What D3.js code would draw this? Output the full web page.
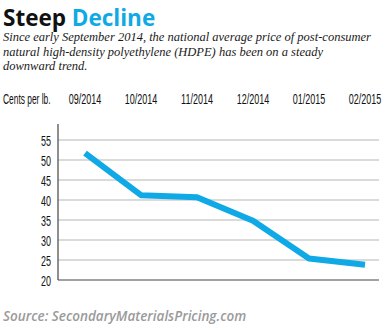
<!DOCTYPE html>
<html>
<head>
<meta charset="utf-8">
<script src="https://cdn.jsdelivr.net/npm/d3@7"></script>
<style>
  html, body { margin: 0; padding: 0; background: #fff; }
  svg { display: block; }
</style>
</head>
<body>
<div id="chart"></div>
<script>
// Monthly HDPE prices, cents per lb.
const months = ['09/2014', '10/2014', '11/2014', '12/2014', '01/2015', '02/2015'];
const prices = [51.7, 41.2, 40.7, 34.8, 25.4, 23.8];
const yTicks = [20, 25, 30, 35, 40, 45, 50, 55];
const subtitleLines = [
  'Since early September 2014, the national average price of post-consumer',
  'natural high-density polyethylene (HDPE) has been on a steady',
  'downward trend.'
];

const width = 387, height = 334;
const margin = { left: 58, right: 8, top: 140, bottom: 54 };
const blue = '#0fa9e6';

const svg = d3.select('#chart').append('svg')
  .attr('width', width)
  .attr('height', height);

// title
const title = svg.append('text')
  .attr('x', 3).attr('y', 26)
  .style('font-family', "'Open Sans', sans-serif")
  .style('font-weight', 700)
  .style('font-size', '22.5px');
title.append('tspan').attr('fill', '#111').text('Steep ');
title.append('tspan').attr('fill', blue).text('Decline');

svg.append('g').selectAll('text')
  .data(subtitleLines)
  .join('text')
  .attr('x', 3)
  .attr('y', (d, i) => 41 + i * 14.5)
  .style('font-family', "'Liberation Serif', serif")
  .style('font-style', 'italic')
  .style('font-size', '12.5px')
  .attr('fill', '#1a1a1a')
  .text(d => d);

const x = d3.scalePoint()
  .domain(months)
  .range([85, 365]);

const y = d3.scaleLinear()
  .domain([20, 55])
  .range([280, 140]);

// squeezed sans text for header and tick labels
function narrowText(g, tx, ty, str, anchor, sx) {
  g.append('text')
    .attr('transform', `translate(${tx},${ty}) scale(${sx},1)`)
    .attr('text-anchor', anchor)
    .style('font-family', "'Liberation Sans', sans-serif")
    .style('font-size', '15px')
    .attr('fill', '#111')
    .text(str);
}

const header = svg.append('g');
narrowText(header, 3, 104, 'Cents per lb.', 'start', 0.56);
months.forEach(m => narrowText(header, x(m), 104, m, 'middle', 0.6));

// gridlines
svg.append('g')
  .selectAll('line')
  .data(yTicks.filter(t => t > 20))
  .join('line')
  .attr('x1', margin.left).attr('x2', 379)
  .attr('y1', d => y(d)).attr('y2', d => y(d))
  .attr('stroke', '#b5b5b5')
  .attr('stroke-width', 1);

// y tick labels
const yLab = svg.append('g');
yTicks.forEach(t => narrowText(yLab, 51, y(t) + 5.5, String(t), 'end', 0.6));

// axes
svg.append('line')
  .attr('x1', margin.left).attr('x2', margin.left)
  .attr('y1', 124).attr('y2', y(20))
  .attr('stroke', '#444').attr('stroke-width', 1.2);
svg.append('line')
  .attr('x1', margin.left).attr('x2', 379)
  .attr('y1', y(20)).attr('y2', y(20))
  .attr('stroke', '#444').attr('stroke-width', 1.2);

// price line
const line = d3.line()
  .x((d, i) => x(months[i]))
  .y(d => y(d));

svg.append('path')
  .datum(prices)
  .attr('d', line)
  .attr('fill', 'none')
  .attr('stroke', blue)
  .attr('stroke-width', 6)
  .attr('stroke-linejoin', 'round');

// source
svg.append('text')
  .attr('x', 3).attr('y', 321)
  .style('font-family', "'Open Sans', sans-serif")
  .style('font-style', 'italic')
  .style('font-weight', 600)
  .style('font-size', '13.5px')
  .attr('fill', '#9a9a9a')
  .text('Source: SecondaryMaterialsPricing.com');
</script>
</body>
</html>
